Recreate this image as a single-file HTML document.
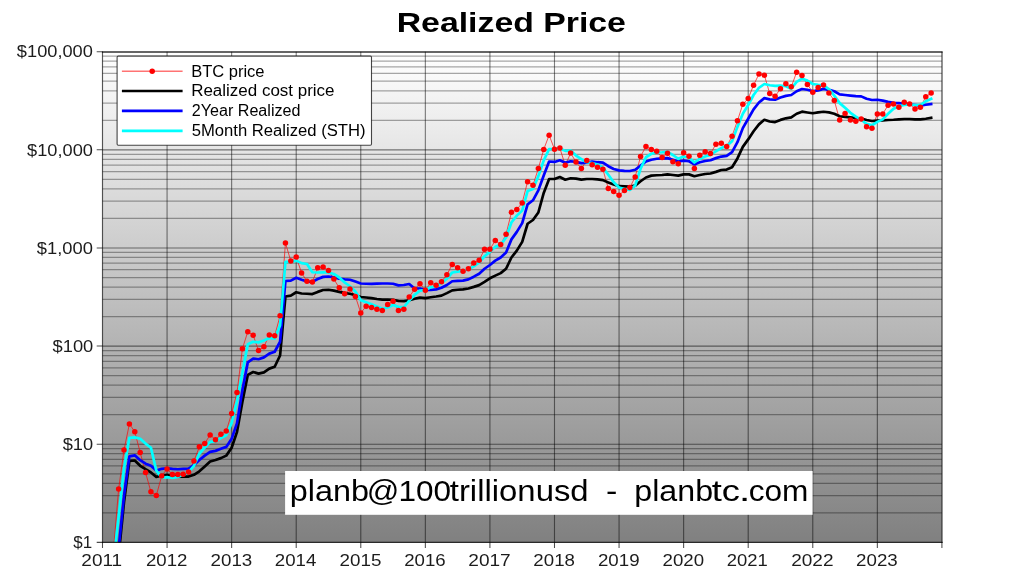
<!DOCTYPE html><html lang="en"><head><meta charset="utf-8"><title>Realized Price</title>
<style>html,body{margin:0;padding:0;background:#fff}svg{display:block;will-change:transform}text{font-family:"Liberation Sans",sans-serif}</style></head><body>
<svg width="1024" height="577" viewBox="0 0 1024 577">
<defs><linearGradient id="bg" x1="0" y1="0" x2="0" y2="1"><stop offset="0" stop-color="#ffffff"/><stop offset="1" stop-color="#808080"/></linearGradient>
<clipPath id="cp"><rect x="102.5" y="51.7" width="839.4" height="490.65000000000003"/></clipPath></defs>
<rect width="1024" height="577" fill="#fff"/>
<rect x="102.5" y="51.7" width="839.4" height="490.65000000000003" fill="url(#bg)"/>
<path d="M102.5,512.81H941.9M102.5,495.53H941.9M102.5,483.27H941.9M102.5,473.76H941.9M102.5,465.99H941.9M102.5,459.42H941.9M102.5,453.73H941.9M102.5,448.71H941.9M102.5,414.68H941.9M102.5,397.40H941.9M102.5,385.14H941.9M102.5,375.63H941.9M102.5,367.86H941.9M102.5,361.29H941.9M102.5,355.60H941.9M102.5,350.58H941.9M102.5,316.55H941.9M102.5,299.27H941.9M102.5,287.01H941.9M102.5,277.50H941.9M102.5,269.73H941.9M102.5,263.16H941.9M102.5,257.47H941.9M102.5,252.45H941.9M102.5,218.42H941.9M102.5,201.14H941.9M102.5,188.88H941.9M102.5,179.37H941.9M102.5,171.60H941.9M102.5,165.03H941.9M102.5,159.34H941.9M102.5,154.32H941.9M102.5,120.29H941.9M102.5,103.01H941.9M102.5,90.75H941.9M102.5,81.24H941.9M102.5,73.47H941.9M102.5,66.90H941.9M102.5,61.21H941.9M102.5,56.19H941.9" stroke="#000" stroke-opacity="0.34" stroke-width="1.25" fill="none"/>
<path d="M102.5,444.22H941.9M102.5,346.09H941.9M102.5,247.96H941.9M102.5,149.83H941.9" stroke="#000" stroke-opacity="0.5" stroke-width="1.1" fill="none"/>
<path d="M167.07,51.7V542.35M231.64,51.7V542.35M296.21,51.7V542.35M360.78,51.7V542.35M425.35,51.7V542.35M489.92,51.7V542.35M554.49,51.7V542.35M619.06,51.7V542.35M683.63,51.7V542.35M748.20,51.7V542.35M812.77,51.7V542.35M877.34,51.7V542.35" stroke="#000" stroke-opacity="0.5" stroke-width="1.1" fill="none"/>
<g clip-path="url(#cp)" fill="none" stroke-linejoin="round" stroke-linecap="square">
<path d="M113.26,552.94 L118.64,488.96 L124.02,449.91 L129.40,423.92 L134.78,431.75 L140.17,452.42 L145.55,472.50 L150.93,491.86 L156.31,495.53 L161.69,475.95 L167.07,468.93 L172.45,474.62 L177.83,474.62 L183.21,474.19 L188.59,472.09 L193.97,460.97 L199.35,446.86 L204.74,443.38 L210.12,434.88 L215.50,439.77 L220.88,434.37 L226.26,431.12 L231.64,413.42 L237.02,392.57 L242.40,348.73 L247.78,331.75 L253.16,335.24 L258.54,350.58 L263.92,346.73 L269.31,334.91 L274.69,335.74 L280.07,315.71 L285.45,243.05 L290.83,261.08 L296.21,256.89 L301.59,273.05 L306.97,281.24 L312.35,281.99 L317.73,267.79 L323.11,266.91 L328.50,270.59 L333.88,279.06 L339.26,287.87 L344.64,293.81 L350.02,289.08 L355.40,296.39 L360.78,312.88 L366.16,306.20 L371.54,307.55 L376.92,309.32 L382.30,310.59 L387.68,304.56 L393.06,301.31 L398.45,310.59 L403.83,309.32 L409.21,296.92 L414.59,289.20 L419.97,283.63 L425.35,290.33 L430.73,282.75 L436.11,285.34 L441.49,281.71 L446.87,274.70 L452.25,264.52 L457.63,267.65 L463.02,271.32 L468.40,268.68 L473.78,263.10 L479.16,260.22 L484.54,249.26 L489.92,249.17 L495.30,240.55 L500.68,244.48 L506.06,234.23 L511.44,212.37 L516.82,209.51 L522.20,202.88 L527.59,181.65 L532.97,185.21 L538.35,168.52 L543.73,149.41 L549.11,135.19 L554.49,149.20 L559.87,148.08 L565.25,165.34 L570.63,153.11 L576.01,161.98 L581.39,168.52 L586.77,160.42 L592.16,164.67 L597.54,167.34 L602.92,169.32 L608.30,188.56 L613.68,191.52 L619.06,195.18 L624.44,190.51 L629.82,187.62 L635.20,176.89 L640.58,156.41 L645.96,146.43 L651.34,149.41 L656.73,151.35 L662.11,157.62 L667.49,153.24 L672.87,161.64 L678.25,163.77 L683.63,152.69 L689.01,156.21 L694.39,168.52 L699.77,155.37 L705.15,151.79 L710.53,153.38 L715.91,144.25 L721.30,143.32 L726.68,146.55 L732.06,136.17 L737.44,120.72 L742.82,104.24 L748.20,98.56 L753.58,85.17 L758.96,74.04 L764.34,75.14 L769.72,93.50 L775.10,96.20 L780.48,88.77 L785.87,83.70 L791.25,86.83 L796.63,72.21 L802.01,75.58 L807.39,84.42 L812.77,92.27 L818.15,87.57 L823.53,85.07 L828.91,93.05 L834.29,100.39 L839.67,120.08 L845.05,113.42 L850.44,120.08 L855.82,121.37 L861.20,119.03 L866.58,126.79 L871.96,128.18 L877.34,114.02 L882.72,113.96 L888.10,105.21 L893.48,104.02 L898.86,107.15 L904.24,102.24 L909.62,104.09 L915.01,108.95 L920.39,107.34 L925.77,96.75 L931.15,93.05" stroke="#ff0000" stroke-opacity="0.75" stroke-width="0.9"/>
<path d="M113.26,610.00 L118.64,556.00 L124.02,502.00 L129.40,460.92 L134.78,460.50 L140.17,465.77 L145.55,469.24 L150.93,472.43 L156.31,476.87 L161.69,475.76 L167.07,475.20 L172.45,475.76 L177.83,476.59 L183.21,476.59 L188.59,476.59 L193.97,474.79 L199.35,471.32 L204.74,466.46 L210.12,461.50 L215.50,460.00 L220.88,458.12 L226.26,455.62 L231.64,447.75 L237.02,431.88 L242.40,401.88 L247.78,374.88 L253.16,372.00 L258.54,373.62 L263.92,372.38 L269.31,368.62 L274.69,366.75 L280.07,355.50 L285.45,296.50 L290.83,295.62 L296.21,292.25 L301.59,293.50 L306.97,293.75 L312.35,294.12 L317.73,291.88 L323.11,290.00 L328.50,289.75 L333.88,290.62 L339.26,291.88 L344.64,293.12 L350.02,293.75 L355.40,295.19 L360.78,297.00 L366.16,297.50 L371.54,298.12 L376.92,299.00 L382.30,299.69 L387.68,299.50 L393.06,299.75 L398.45,301.00 L403.83,301.25 L409.21,300.25 L414.59,298.75 L419.97,297.50 L425.35,298.12 L430.73,297.25 L436.11,296.50 L441.49,295.62 L446.87,293.12 L452.25,290.38 L457.63,289.75 L463.02,289.38 L468.40,288.50 L473.78,286.88 L479.16,285.10 L484.54,281.80 L489.92,278.30 L495.30,275.62 L500.68,273.12 L506.06,268.75 L511.44,257.50 L516.82,250.62 L522.20,241.88 L527.59,223.75 L532.97,220.00 L538.35,212.50 L543.73,192.91 L549.11,178.98 L554.49,178.98 L559.87,177.00 L565.25,179.70 L570.63,178.27 L576.01,178.70 L581.39,179.70 L586.77,178.98 L592.16,178.98 L597.54,179.41 L602.92,180.12 L608.30,182.54 L613.68,184.52 L619.06,186.19 L624.44,186.31 L629.82,186.50 L635.20,185.62 L640.58,181.25 L645.96,177.50 L651.34,175.62 L656.73,175.25 L662.11,175.00 L667.49,174.38 L672.87,175.00 L678.25,175.62 L683.63,174.38 L689.01,174.38 L694.39,176.25 L699.77,175.00 L705.15,174.00 L710.53,173.50 L715.91,171.88 L721.30,170.00 L726.68,169.56 L732.06,167.25 L737.44,158.44 L742.82,146.88 L748.20,139.38 L753.58,131.25 L758.96,124.38 L764.34,119.81 L769.72,121.50 L775.10,122.06 L780.48,119.88 L785.87,118.31 L791.25,117.38 L796.63,113.75 L802.01,111.69 L807.39,112.50 L812.77,113.25 L818.15,112.38 L823.53,111.75 L828.91,112.42 L834.29,113.75 L839.67,116.25 L845.05,116.88 L850.44,117.38 L855.82,118.12 L861.20,118.50 L866.58,120.00 L871.96,121.00 L877.34,120.62 L882.72,120.38 L888.10,120.00 L893.48,119.75 L898.86,119.38 L904.24,119.00 L909.62,119.00 L915.01,119.38 L920.39,119.38 L925.77,118.75 L931.15,117.88" stroke="#000" stroke-width="2.7"/>
<path d="M113.26,601.00 L118.64,548.50 L124.02,495.80 L129.40,456.34 L134.78,455.37 L140.17,460.22 L145.55,463.69 L150.93,465.77 L156.31,470.62 L161.69,468.82 L167.07,468.27 L172.45,468.82 L177.83,469.24 L183.21,468.82 L188.59,468.54 L193.97,465.08 L199.35,460.00 L204.74,455.62 L210.12,451.88 L215.50,450.88 L220.88,448.75 L226.26,446.88 L231.64,438.75 L237.02,423.12 L242.40,390.00 L247.78,362.38 L253.16,358.62 L258.54,359.25 L263.92,357.38 L269.31,353.62 L274.69,351.75 L280.07,341.75 L285.45,281.00 L290.83,280.62 L296.21,277.75 L301.59,279.75 L306.97,281.50 L312.35,281.88 L317.73,279.00 L323.11,276.88 L328.50,276.50 L333.88,277.25 L339.26,278.75 L344.64,279.38 L350.02,279.75 L355.40,281.56 L360.78,283.50 L366.16,283.75 L371.54,283.94 L376.92,283.69 L382.30,283.50 L387.68,283.50 L393.06,283.75 L398.45,285.38 L403.83,285.00 L409.21,284.00 L414.59,288.50 L419.97,288.50 L425.35,290.00 L430.73,290.00 L436.11,289.38 L441.49,287.75 L446.87,285.00 L452.25,281.25 L457.63,280.88 L463.02,280.62 L468.40,279.38 L473.78,276.69 L479.16,273.75 L484.54,268.75 L489.92,265.00 L495.30,260.62 L500.68,257.50 L506.06,252.50 L511.44,239.38 L516.82,231.88 L522.20,223.12 L527.59,204.42 L532.97,200.29 L538.35,190.35 L543.73,175.43 L549.11,161.51 L554.49,161.94 L559.87,160.23 L565.25,162.65 L570.63,161.23 L576.01,161.94 L581.39,163.07 L586.77,162.65 L592.16,161.65 L597.54,162.22 L602.92,162.65 L608.30,166.20 L613.68,169.02 L619.06,170.42 L624.44,170.81 L629.82,171.00 L635.20,169.75 L640.58,165.62 L645.96,161.50 L651.34,159.75 L656.73,158.75 L662.11,158.38 L667.49,158.12 L672.87,159.75 L678.25,161.50 L683.63,160.62 L689.01,161.25 L694.39,164.38 L699.77,162.25 L705.15,161.00 L710.53,160.25 L715.91,158.12 L721.30,156.56 L726.68,155.81 L732.06,152.19 L737.44,142.19 L742.82,128.12 L748.20,118.75 L753.58,109.38 L758.96,102.50 L764.34,98.12 L769.72,99.38 L775.10,99.75 L780.48,97.50 L785.87,95.88 L791.25,95.00 L796.63,91.25 L802.01,89.00 L807.39,89.75 L812.77,91.25 L818.15,90.38 L823.53,88.88 L828.91,89.88 L834.29,91.25 L839.67,94.38 L845.05,95.00 L850.44,95.62 L855.82,96.12 L861.20,96.38 L866.58,98.75 L871.96,100.00 L877.34,99.75 L882.72,100.62 L888.10,101.88 L893.48,102.88 L898.86,103.12 L904.24,103.75 L909.62,104.38 L915.01,105.00 L920.39,105.62 L925.77,104.75 L931.15,104.12" stroke="#0000ff" stroke-width="2.7"/>
<path d="M113.26,564.00 L118.64,516.50 L124.02,468.60 L129.40,437.75 L134.78,437.34 L140.17,438.72 L145.55,443.58 L150.93,447.74 L156.31,470.62 L161.69,477.56 L167.07,477.14 L172.45,477.98 L177.83,476.87 L183.21,474.79 L188.59,472.01 L193.97,465.77 L199.35,453.75 L204.74,447.50 L210.12,441.88 L215.50,441.25 L220.88,438.12 L226.26,435.25 L231.64,423.12 L237.02,401.25 L242.40,372.70 L247.78,344.25 L253.16,341.75 L258.54,342.38 L263.92,340.50 L269.31,338.00 L274.69,338.62 L280.07,325.50 L285.45,261.88 L290.83,261.88 L296.21,260.62 L301.59,263.12 L306.97,264.00 L312.35,272.25 L317.73,272.50 L323.11,272.25 L328.50,272.50 L333.88,274.00 L339.26,277.50 L344.64,282.50 L350.02,286.25 L355.40,291.56 L360.78,300.31 L366.16,302.19 L371.54,304.19 L376.92,306.38 L382.30,308.75 L387.68,307.50 L393.06,305.00 L398.45,306.88 L403.83,307.25 L409.21,300.62 L414.59,295.00 L419.97,290.62 L425.35,290.00 L430.73,287.25 L436.11,286.25 L441.49,283.12 L446.87,278.75 L452.25,272.50 L457.63,271.56 L463.02,270.94 L468.40,269.19 L473.78,266.38 L479.16,262.50 L484.54,256.25 L489.92,251.88 L495.30,246.88 L500.68,244.75 L506.06,237.50 L511.44,222.50 L516.82,215.62 L522.20,210.62 L527.59,191.06 L532.97,188.93 L538.35,176.14 L543.73,160.52 L549.11,149.15 L554.49,148.87 L559.87,148.44 L565.25,150.86 L570.63,150.57 L576.01,155.54 L581.39,159.10 L586.77,162.22 L592.16,163.07 L597.54,164.49 L602.92,167.62 L608.30,174.72 L613.68,182.25 L619.06,187.55 L624.44,188.96 L629.82,190.00 L635.20,185.62 L640.58,168.75 L645.96,157.25 L651.34,153.75 L656.73,152.50 L662.11,152.25 L667.49,151.88 L672.87,155.00 L678.25,158.75 L683.63,156.50 L689.01,157.50 L694.39,162.50 L699.77,158.75 L705.15,156.50 L710.53,155.00 L715.91,151.25 L721.30,148.12 L726.68,145.94 L732.06,141.25 L737.44,126.88 L742.82,113.75 L748.20,105.00 L753.58,95.00 L758.96,87.75 L764.34,84.00 L769.72,85.25 L775.10,85.88 L780.48,85.62 L785.87,86.25 L791.25,88.75 L796.63,81.88 L802.01,78.75 L807.39,80.62 L812.77,84.00 L818.15,84.75 L823.53,85.31 L828.91,89.06 L834.29,95.62 L839.67,103.12 L845.05,107.81 L850.44,112.81 L855.82,116.56 L861.20,120.00 L866.58,123.75 L871.96,125.25 L877.34,121.88 L882.72,119.38 L888.10,113.75 L893.48,108.75 L898.86,106.25 L904.24,105.00 L909.62,104.38 L915.01,105.00 L920.39,105.00 L925.77,101.25 L931.15,98.75" stroke="#00ffff" stroke-width="2.7"/>
<g fill="#ff0000" stroke="none">
<circle cx="113.26" cy="552.94" r="2.75"/>
<circle cx="118.64" cy="488.96" r="2.75"/>
<circle cx="124.02" cy="449.91" r="2.75"/>
<circle cx="129.40" cy="423.92" r="2.75"/>
<circle cx="134.78" cy="431.75" r="2.75"/>
<circle cx="140.17" cy="452.42" r="2.75"/>
<circle cx="145.55" cy="472.50" r="2.75"/>
<circle cx="150.93" cy="491.86" r="2.75"/>
<circle cx="156.31" cy="495.53" r="2.75"/>
<circle cx="161.69" cy="475.95" r="2.75"/>
<circle cx="167.07" cy="468.93" r="2.75"/>
<circle cx="172.45" cy="474.62" r="2.75"/>
<circle cx="177.83" cy="474.62" r="2.75"/>
<circle cx="183.21" cy="474.19" r="2.75"/>
<circle cx="188.59" cy="472.09" r="2.75"/>
<circle cx="193.97" cy="460.97" r="2.75"/>
<circle cx="199.35" cy="446.86" r="2.75"/>
<circle cx="204.74" cy="443.38" r="2.75"/>
<circle cx="210.12" cy="434.88" r="2.75"/>
<circle cx="215.50" cy="439.77" r="2.75"/>
<circle cx="220.88" cy="434.37" r="2.75"/>
<circle cx="226.26" cy="431.12" r="2.75"/>
<circle cx="231.64" cy="413.42" r="2.75"/>
<circle cx="237.02" cy="392.57" r="2.75"/>
<circle cx="242.40" cy="348.73" r="2.75"/>
<circle cx="247.78" cy="331.75" r="2.75"/>
<circle cx="253.16" cy="335.24" r="2.75"/>
<circle cx="258.54" cy="350.58" r="2.75"/>
<circle cx="263.92" cy="346.73" r="2.75"/>
<circle cx="269.31" cy="334.91" r="2.75"/>
<circle cx="274.69" cy="335.74" r="2.75"/>
<circle cx="280.07" cy="315.71" r="2.75"/>
<circle cx="285.45" cy="243.05" r="2.75"/>
<circle cx="290.83" cy="261.08" r="2.75"/>
<circle cx="296.21" cy="256.89" r="2.75"/>
<circle cx="301.59" cy="273.05" r="2.75"/>
<circle cx="306.97" cy="281.24" r="2.75"/>
<circle cx="312.35" cy="281.99" r="2.75"/>
<circle cx="317.73" cy="267.79" r="2.75"/>
<circle cx="323.11" cy="266.91" r="2.75"/>
<circle cx="328.50" cy="270.59" r="2.75"/>
<circle cx="333.88" cy="279.06" r="2.75"/>
<circle cx="339.26" cy="287.87" r="2.75"/>
<circle cx="344.64" cy="293.81" r="2.75"/>
<circle cx="350.02" cy="289.08" r="2.75"/>
<circle cx="355.40" cy="296.39" r="2.75"/>
<circle cx="360.78" cy="312.88" r="2.75"/>
<circle cx="366.16" cy="306.20" r="2.75"/>
<circle cx="371.54" cy="307.55" r="2.75"/>
<circle cx="376.92" cy="309.32" r="2.75"/>
<circle cx="382.30" cy="310.59" r="2.75"/>
<circle cx="387.68" cy="304.56" r="2.75"/>
<circle cx="393.06" cy="301.31" r="2.75"/>
<circle cx="398.45" cy="310.59" r="2.75"/>
<circle cx="403.83" cy="309.32" r="2.75"/>
<circle cx="409.21" cy="296.92" r="2.75"/>
<circle cx="414.59" cy="289.20" r="2.75"/>
<circle cx="419.97" cy="283.63" r="2.75"/>
<circle cx="425.35" cy="290.33" r="2.75"/>
<circle cx="430.73" cy="282.75" r="2.75"/>
<circle cx="436.11" cy="285.34" r="2.75"/>
<circle cx="441.49" cy="281.71" r="2.75"/>
<circle cx="446.87" cy="274.70" r="2.75"/>
<circle cx="452.25" cy="264.52" r="2.75"/>
<circle cx="457.63" cy="267.65" r="2.75"/>
<circle cx="463.02" cy="271.32" r="2.75"/>
<circle cx="468.40" cy="268.68" r="2.75"/>
<circle cx="473.78" cy="263.10" r="2.75"/>
<circle cx="479.16" cy="260.22" r="2.75"/>
<circle cx="484.54" cy="249.26" r="2.75"/>
<circle cx="489.92" cy="249.17" r="2.75"/>
<circle cx="495.30" cy="240.55" r="2.75"/>
<circle cx="500.68" cy="244.48" r="2.75"/>
<circle cx="506.06" cy="234.23" r="2.75"/>
<circle cx="511.44" cy="212.37" r="2.75"/>
<circle cx="516.82" cy="209.51" r="2.75"/>
<circle cx="522.20" cy="202.88" r="2.75"/>
<circle cx="527.59" cy="181.65" r="2.75"/>
<circle cx="532.97" cy="185.21" r="2.75"/>
<circle cx="538.35" cy="168.52" r="2.75"/>
<circle cx="543.73" cy="149.41" r="2.75"/>
<circle cx="549.11" cy="135.19" r="2.75"/>
<circle cx="554.49" cy="149.20" r="2.75"/>
<circle cx="559.87" cy="148.08" r="2.75"/>
<circle cx="565.25" cy="165.34" r="2.75"/>
<circle cx="570.63" cy="153.11" r="2.75"/>
<circle cx="576.01" cy="161.98" r="2.75"/>
<circle cx="581.39" cy="168.52" r="2.75"/>
<circle cx="586.77" cy="160.42" r="2.75"/>
<circle cx="592.16" cy="164.67" r="2.75"/>
<circle cx="597.54" cy="167.34" r="2.75"/>
<circle cx="602.92" cy="169.32" r="2.75"/>
<circle cx="608.30" cy="188.56" r="2.75"/>
<circle cx="613.68" cy="191.52" r="2.75"/>
<circle cx="619.06" cy="195.18" r="2.75"/>
<circle cx="624.44" cy="190.51" r="2.75"/>
<circle cx="629.82" cy="187.62" r="2.75"/>
<circle cx="635.20" cy="176.89" r="2.75"/>
<circle cx="640.58" cy="156.41" r="2.75"/>
<circle cx="645.96" cy="146.43" r="2.75"/>
<circle cx="651.34" cy="149.41" r="2.75"/>
<circle cx="656.73" cy="151.35" r="2.75"/>
<circle cx="662.11" cy="157.62" r="2.75"/>
<circle cx="667.49" cy="153.24" r="2.75"/>
<circle cx="672.87" cy="161.64" r="2.75"/>
<circle cx="678.25" cy="163.77" r="2.75"/>
<circle cx="683.63" cy="152.69" r="2.75"/>
<circle cx="689.01" cy="156.21" r="2.75"/>
<circle cx="694.39" cy="168.52" r="2.75"/>
<circle cx="699.77" cy="155.37" r="2.75"/>
<circle cx="705.15" cy="151.79" r="2.75"/>
<circle cx="710.53" cy="153.38" r="2.75"/>
<circle cx="715.91" cy="144.25" r="2.75"/>
<circle cx="721.30" cy="143.32" r="2.75"/>
<circle cx="726.68" cy="146.55" r="2.75"/>
<circle cx="732.06" cy="136.17" r="2.75"/>
<circle cx="737.44" cy="120.72" r="2.75"/>
<circle cx="742.82" cy="104.24" r="2.75"/>
<circle cx="748.20" cy="98.56" r="2.75"/>
<circle cx="753.58" cy="85.17" r="2.75"/>
<circle cx="758.96" cy="74.04" r="2.75"/>
<circle cx="764.34" cy="75.14" r="2.75"/>
<circle cx="769.72" cy="93.50" r="2.75"/>
<circle cx="775.10" cy="96.20" r="2.75"/>
<circle cx="780.48" cy="88.77" r="2.75"/>
<circle cx="785.87" cy="83.70" r="2.75"/>
<circle cx="791.25" cy="86.83" r="2.75"/>
<circle cx="796.63" cy="72.21" r="2.75"/>
<circle cx="802.01" cy="75.58" r="2.75"/>
<circle cx="807.39" cy="84.42" r="2.75"/>
<circle cx="812.77" cy="92.27" r="2.75"/>
<circle cx="818.15" cy="87.57" r="2.75"/>
<circle cx="823.53" cy="85.07" r="2.75"/>
<circle cx="828.91" cy="93.05" r="2.75"/>
<circle cx="834.29" cy="100.39" r="2.75"/>
<circle cx="839.67" cy="120.08" r="2.75"/>
<circle cx="845.05" cy="113.42" r="2.75"/>
<circle cx="850.44" cy="120.08" r="2.75"/>
<circle cx="855.82" cy="121.37" r="2.75"/>
<circle cx="861.20" cy="119.03" r="2.75"/>
<circle cx="866.58" cy="126.79" r="2.75"/>
<circle cx="871.96" cy="128.18" r="2.75"/>
<circle cx="877.34" cy="114.02" r="2.75"/>
<circle cx="882.72" cy="113.96" r="2.75"/>
<circle cx="888.10" cy="105.21" r="2.75"/>
<circle cx="893.48" cy="104.02" r="2.75"/>
<circle cx="898.86" cy="107.15" r="2.75"/>
<circle cx="904.24" cy="102.24" r="2.75"/>
<circle cx="909.62" cy="104.09" r="2.75"/>
<circle cx="915.01" cy="108.95" r="2.75"/>
<circle cx="920.39" cy="107.34" r="2.75"/>
<circle cx="925.77" cy="96.75" r="2.75"/>
<circle cx="931.15" cy="93.05" r="2.75"/>
</g></g>
<path d="M101.95,52.0H942.6" stroke="#000" stroke-opacity="0.6" stroke-width="1.9" fill="none"/>
<path d="M942.0,51.7V542.85" stroke="#000" stroke-opacity="0.62" stroke-width="1.4" fill="none"/>
<path d="M102.5,51.7V542.85" stroke="#000" stroke-opacity="0.66" stroke-width="1.15" fill="none"/>
<path d="M101.95,542.35H942.6" stroke="#000" stroke-opacity="0.8" stroke-width="1.05" fill="none"/>
<path d="M96.7,542.35H102.5M96.7,444.22H102.5M96.7,346.09H102.5M96.7,247.96H102.5M96.7,149.83H102.5M96.7,51.70H102.5M102.50,542.35V547.95M167.07,542.35V547.95M231.64,542.35V547.95M296.21,542.35V547.95M360.78,542.35V547.95M425.35,542.35V547.95M489.92,542.35V547.95M554.49,542.35V547.95M619.06,542.35V547.95M683.63,542.35V547.95M748.20,542.35V547.95M812.77,542.35V547.95M877.34,542.35V547.95M941.91,542.35V547.95" stroke="#000" stroke-opacity="0.7" stroke-width="1.05" fill="none"/>
<rect x="117.1" y="56.1" width="254.4" height="89.2" rx="1.2" fill="#fff" stroke="#000" stroke-opacity="0.72" stroke-width="1.1"/>
<path d="M121.9,71.2H182.6" stroke="#ff0000" stroke-opacity="0.55" stroke-width="1.35"/>
<circle cx="152.2" cy="71.2" r="2.75" fill="#ff0000"/>
<path d="M121.9,91.0H182.6" stroke="#000" stroke-width="2.7"/>
<path d="M121.9,110.9H182.6" stroke="#0000ff" stroke-width="2.7"/>
<path d="M121.9,130.9H182.6" stroke="#00ffff" stroke-width="2.7"/>
<rect x="285.1" y="471" width="527.5" height="43.8" fill="#fff"/>
<text x="396.73" y="31.70" font-size="27.2" font-weight="bold" textLength="229.18" lengthAdjust="spacingAndGlyphs" fill="#000">Realized Price</text>
<text x="16.89" y="57.40" font-size="16.4" textLength="76.03" lengthAdjust="spacingAndGlyphs" fill="#1c1c1c">$100,000</text>
<text x="27.02" y="155.53" font-size="16.4" textLength="65.92" lengthAdjust="spacingAndGlyphs" fill="#1c1c1c">$10,000</text>
<text x="36.79" y="253.66" font-size="16.4" textLength="56.14" lengthAdjust="spacingAndGlyphs" fill="#1c1c1c">$1,000</text>
<text x="52.57" y="351.79" font-size="16.4" textLength="40.73" lengthAdjust="spacingAndGlyphs" fill="#1c1c1c">$100</text>
<text x="62.70" y="449.92" font-size="16.4" textLength="30.46" lengthAdjust="spacingAndGlyphs" fill="#1c1c1c">$10</text>
<text x="73.39" y="548.05" font-size="16.4" textLength="18.88" lengthAdjust="spacingAndGlyphs" fill="#1c1c1c">$1</text>
<text x="191.15" y="76.50" font-size="16.0" textLength="73.42" lengthAdjust="spacingAndGlyphs" fill="#000">BTC price</text>
<text x="191.15" y="96.30" font-size="16.0" textLength="143.38" lengthAdjust="spacingAndGlyphs" fill="#000">Realized cost price</text>
<text x="191.78" y="116.20" font-size="16.0" textLength="108.70" lengthAdjust="spacingAndGlyphs" fill="#000">2Year Realized</text>
<text x="191.66" y="136.20" font-size="16.0" textLength="173.95" lengthAdjust="spacingAndGlyphs" fill="#000">5Month Realized (STH)</text>
<text x="289.86" y="501.20" font-size="29.5" textLength="79.26" lengthAdjust="spacingAndGlyphs" fill="#000">planb</text>
<text x="366.81" y="501.20" font-size="29.5" textLength="32.61" lengthAdjust="spacingAndGlyphs" fill="#000">@</text>
<text x="398.58" y="501.20" font-size="29.5" textLength="52.58" lengthAdjust="spacingAndGlyphs" fill="#000">100</text>
<text x="449.81" y="501.20" font-size="29.5" textLength="138.87" lengthAdjust="spacingAndGlyphs" fill="#000">trillionusd</text>
<text x="606.03" y="501.20" font-size="29.5" textLength="11.33" lengthAdjust="spacingAndGlyphs" fill="#000">-</text>
<text x="634.29" y="501.20" font-size="29.5" textLength="78.77" lengthAdjust="spacingAndGlyphs" fill="#000">planb</text>
<text x="711.78" y="501.20" font-size="29.5" textLength="28.23" lengthAdjust="spacingAndGlyphs" fill="#000">tc</text>
<text x="738.84" y="501.20" font-size="29.5" textLength="11.74" lengthAdjust="spacingAndGlyphs" fill="#000">.</text>
<text x="748.68" y="501.20" font-size="29.5" textLength="59.77" lengthAdjust="spacingAndGlyphs" fill="#000">com</text>
<text x="81.36" y="566.00" font-size="16.4" textLength="40.82" lengthAdjust="spacingAndGlyphs" fill="#1c1c1c">2011</text>
<text x="145.99" y="566.00" font-size="16.4" textLength="41.45" lengthAdjust="spacingAndGlyphs" fill="#1c1c1c">2012</text>
<text x="210.54" y="566.00" font-size="16.4" textLength="41.73" lengthAdjust="spacingAndGlyphs" fill="#1c1c1c">2013</text>
<text x="274.77" y="566.00" font-size="16.4" textLength="41.51" lengthAdjust="spacingAndGlyphs" fill="#1c1c1c">2014</text>
<text x="339.58" y="566.00" font-size="16.4" textLength="41.83" lengthAdjust="spacingAndGlyphs" fill="#1c1c1c">2015</text>
<text x="404.18" y="566.00" font-size="16.4" textLength="41.52" lengthAdjust="spacingAndGlyphs" fill="#1c1c1c">2016</text>
<text x="468.31" y="566.00" font-size="16.4" textLength="42.43" lengthAdjust="spacingAndGlyphs" fill="#1c1c1c">2017</text>
<text x="533.37" y="566.00" font-size="16.4" textLength="41.57" lengthAdjust="spacingAndGlyphs" fill="#1c1c1c">2018</text>
<text x="597.94" y="566.00" font-size="16.4" textLength="41.62" lengthAdjust="spacingAndGlyphs" fill="#1c1c1c">2019</text>
<text x="662.50" y="566.00" font-size="16.4" textLength="41.51" lengthAdjust="spacingAndGlyphs" fill="#1c1c1c">2020</text>
<text x="726.69" y="566.00" font-size="16.4" textLength="41.06" lengthAdjust="spacingAndGlyphs" fill="#1c1c1c">2021</text>
<text x="791.18" y="566.00" font-size="16.4" textLength="42.30" lengthAdjust="spacingAndGlyphs" fill="#1c1c1c">2022</text>
<text x="856.11" y="566.00" font-size="16.4" textLength="41.67" lengthAdjust="spacingAndGlyphs" fill="#1c1c1c">2023</text>
</svg></body></html>
